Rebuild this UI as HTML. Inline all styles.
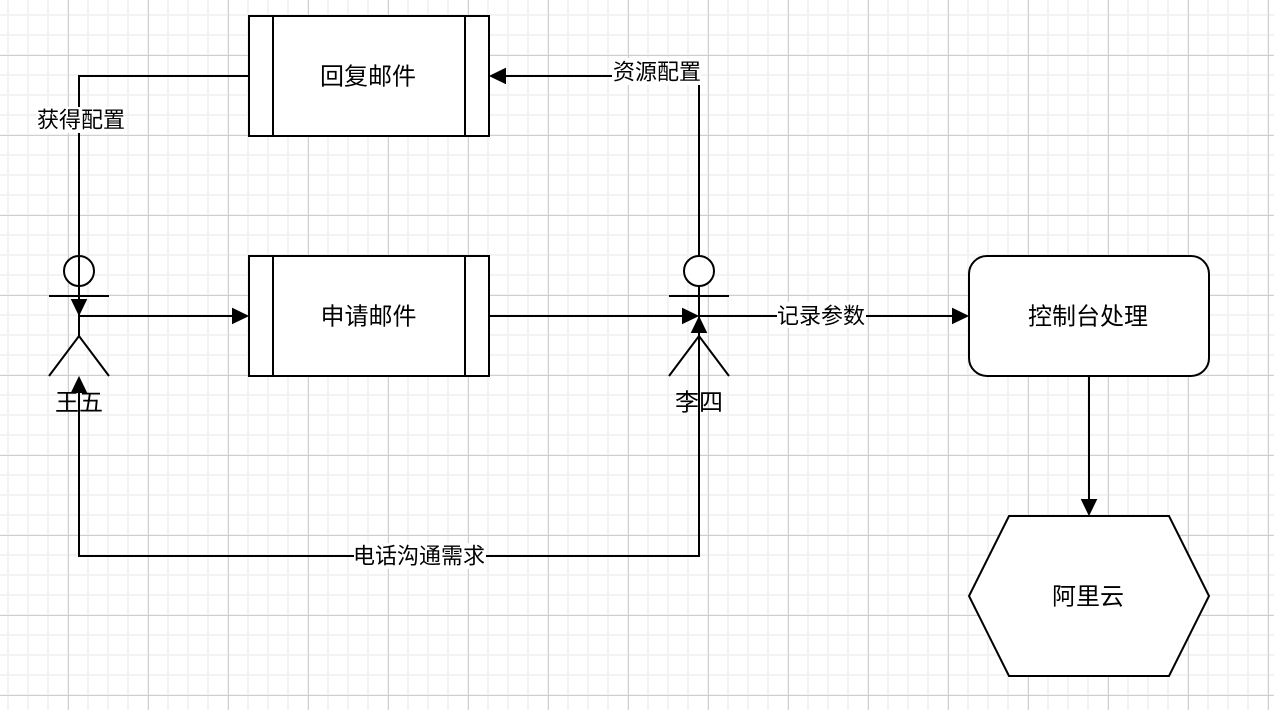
<!DOCTYPE html>
<html><head><meta charset="utf-8"><style>
html,body{margin:0;padding:0;background:#fff}
svg{display:block}
text{font-family:"Liberation Sans","Noto Sans CJK SC",sans-serif;fill:#000;text-anchor:middle;dominant-baseline:central}
.s{fill:#fff;stroke:#000;stroke-width:2}
.l{fill:none;stroke:#000;stroke-width:2}
.a{fill:#000;stroke:#000;stroke-width:1}
</style></head><body>
<svg width="1274" height="710" viewBox="0 0 1274 710" xmlns="http://www.w3.org/2000/svg">
<defs>
<pattern id="g1" width="20" height="20" patternUnits="userSpaceOnUse" x="8" y="15"><path d="M0 0V20M20 0V20M0 0H20M0 20H20" fill="none" stroke="#f3f3f3" stroke-width="2"/></pattern>
<pattern id="g2" width="80" height="80" patternUnits="userSpaceOnUse" x="68" y="55"><path d="M0.5 0V80M0 0.5H80" fill="none" stroke="#cfcfcf" stroke-width="1"/></pattern>
</defs>
<rect width="1274" height="710" fill="#fff"/>
<rect width="1274" height="710" fill="url(#g1)"/>
<rect width="1274" height="710" fill="url(#g2)"/>

<rect class="s" x="249" y="16" width="240" height="120"/>
<path class="l" d="M273 16V136M465 16V136"/>
<text x="368" y="77" font-size="24">回复邮件</text>

<rect class="s" x="249" y="256" width="240" height="120"/>
<path class="l" d="M273 256V376M465 256V376"/>
<text x="368.500" y="317" font-size="24">申请邮件</text>

<rect class="s" x="969" y="256" width="240" height="120" rx="18" ry="18"/>
<text x="1088" y="317" font-size="24">控制台处理</text>

<polygon class="s" points="1009,516 1169,516 1209,596 1169,676 1009,676 969,596"/>
<text x="1088" y="597" font-size="24">阿里云</text>

<!-- actor 王五 -->
<circle class="s" cx="79" cy="271" r="15"/>
<path class="l" d="M79 286V336M49 296H109M49 376L79 336L109 376"/>
<text x="79" y="403" font-size="24">王五</text>
<!-- actor 李四 -->
<circle class="s" cx="699" cy="271" r="15"/>
<path class="l" d="M699 286V336M669 296H729M669 376L699 336L729 376"/>
<text x="699" y="403" font-size="24">李四</text>

<!-- edges -->
<path class="l" d="M249 76H79V299"/>
<polygon class="a" points="71.500,299.500 86.500,299.500 79,315"/>
<path class="l" d="M79 316H233"/>
<polygon class="a" points="232.500,308.500 248,316 232.500,323.500"/>
<path class="l" d="M489 316H683"/>
<polygon class="a" points="682.500,308.500 698,316 682.500,323.500"/>
<path class="l" d="M699 316H953"/>
<polygon class="a" points="952.500,308.500 968,316 952.500,323.500"/>
<path class="l" d="M699 256V76H505"/>
<polygon class="a" points="505.500,68.500 490,76 505.500,83.500"/>
<path class="l" d="M699 376V556H79V392"/>
<polygon class="a" points="71.500,392.500 86.500,392.500 79,377"/>
<path class="l" d="M699 376V332"/>
<polygon class="a" points="691.500,332.500 706.500,332.500 699,317"/>
<path class="l" d="M1089 376V500"/>
<polygon class="a" points="1081.500,499.500 1096.500,499.500 1089,515"/>

<!-- edge labels -->
<rect x="37" y="107" width="87" height="26" fill="#fff"/>
<text x="81" y="120" font-size="22">获得配置</text>
<rect x="612" y="58" width="89" height="27" fill="#fff"/>
<text x="657" y="72" font-size="22">资源配置</text>
<rect x="777" y="302" width="89" height="26" fill="#fff"/>
<text x="821" y="316" font-size="22">记录参数</text>
<rect x="354" y="543" width="132" height="26" fill="#fff"/>
<text x="419" y="556" font-size="22">电话沟通需求</text>
</svg>
</body></html>
